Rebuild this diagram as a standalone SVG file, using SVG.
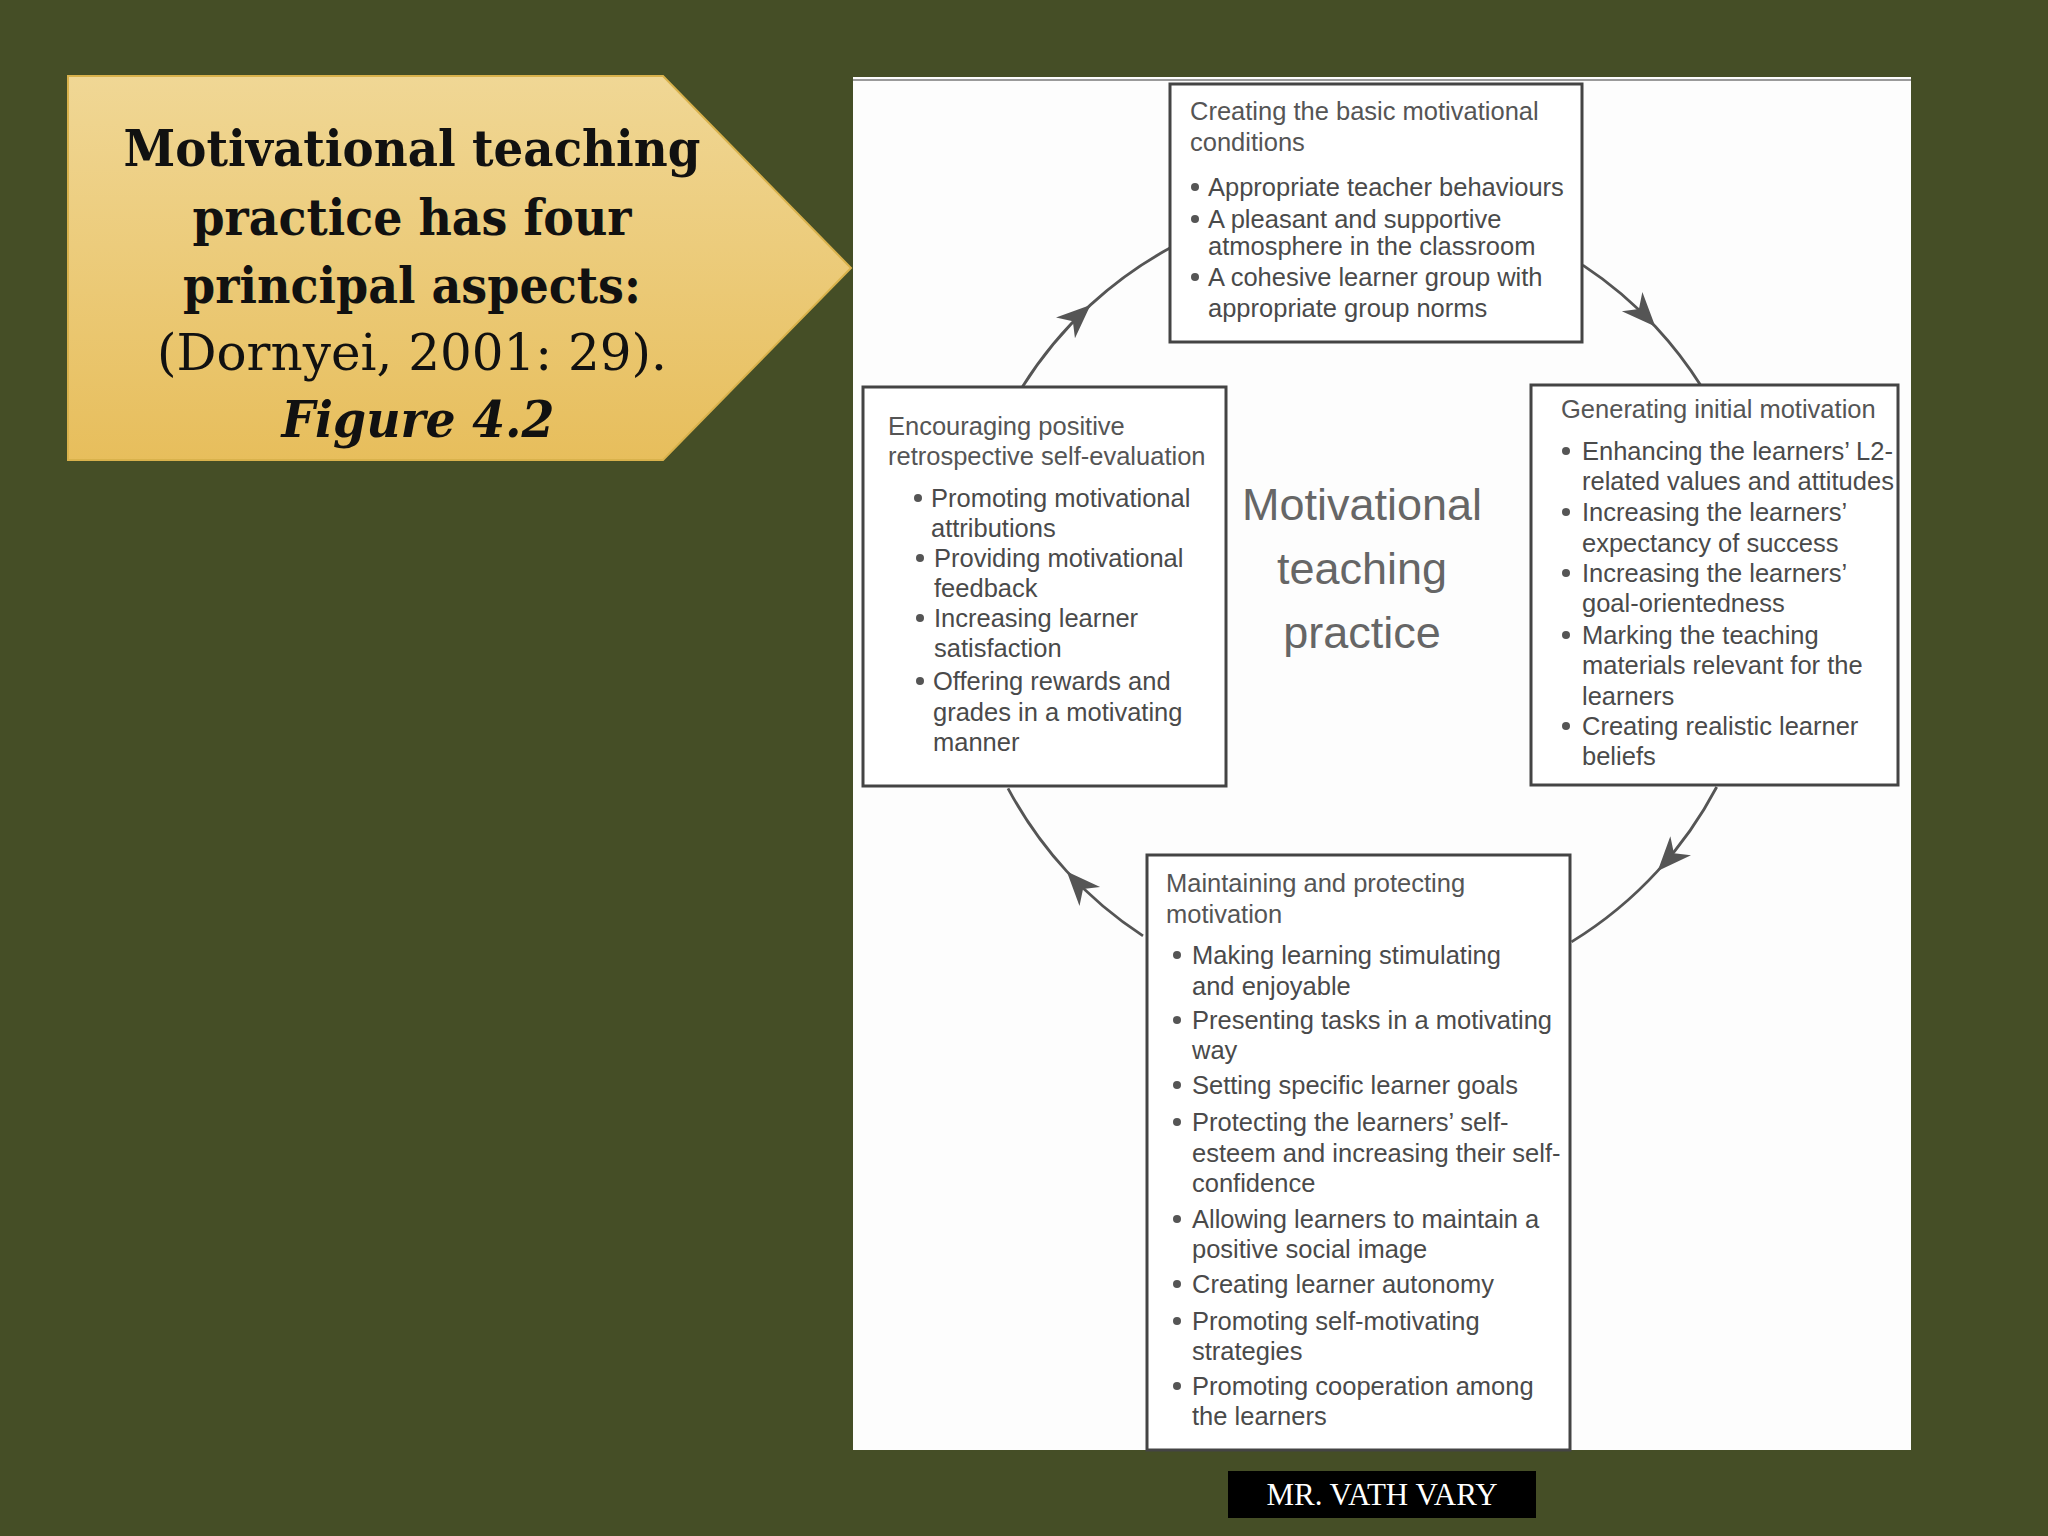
<svg xmlns="http://www.w3.org/2000/svg" width="2048" height="1536" viewBox="0 0 2048 1536">
<defs>
<linearGradient id="gold" x1="0" y1="0" x2="0" y2="1">
<stop offset="0" stop-color="#f0d795"/>
<stop offset="1" stop-color="#e7be5c"/>
</linearGradient>
<marker id="arr" viewBox="-36 -16 38 32" refX="0" refY="0" markerWidth="38" markerHeight="32" markerUnits="userSpaceOnUse" orient="auto">
<path d="M0,0 L-34,-14 L-24,0 L-34,14 Z" fill="#555"/>
</marker>
<style>
.box{fill:#fff;stroke:#444;stroke-width:3}
.t{font-family:"Liberation Sans",Arial,sans-serif;font-size:25.5px;fill:#4a4a4a}
.h{font-family:"Liberation Sans",Arial,sans-serif;font-size:25.5px;fill:#555}
.c{font-family:"Liberation Sans",Arial,sans-serif;font-size:45px;fill:#666;text-anchor:middle}
.b{fill:#555}
.arc{fill:none;stroke:#555;stroke-width:2.8;marker-mid:url(#arr)}
.ti{font-family:"DejaVu Serif","Liberation Serif",serif;font-size:50px;fill:#111;text-anchor:middle}
</style>
</defs>
<rect width="2048" height="1536" fill="#454e26"/>

<g id="callout">
<polygon points="68,76 663,76 851,268 663,460 68,460" fill="url(#gold)" stroke="#d9b24c" stroke-width="2"/>
<text class="ti" x="412" y="166" font-weight="bold" textLength="577" lengthAdjust="spacingAndGlyphs">Motivational teaching</text>
<text class="ti" x="412" y="235" font-weight="bold" textLength="439" lengthAdjust="spacingAndGlyphs">practice has four</text>
<text class="ti" x="412" y="303" font-weight="bold" textLength="458" lengthAdjust="spacingAndGlyphs">principal aspects:</text>
<text class="ti" x="412" y="370" textLength="510" lengthAdjust="spacingAndGlyphs">(Dornyei, 2001: 29).</text>
<text class="ti" x="418" y="437" font-weight="bold" font-style="italic" textLength="273" lengthAdjust="spacingAndGlyphs">Figure 4.2</text>
</g>

<g id="panel">
<rect x="853" y="77" width="1058" height="1373" fill="#fdfdfd"/>
<line x1="853" y1="80" x2="1911" y2="80" stroke="#9a9a9a" stroke-width="2"/>
</g>

<g id="connectors">
<path class="arc" d="M1022,387.5 A401,401 0 0 1 1090.5,304.9 A401,401 0 0 1 1171.3,247.3"/>
<path class="arc" d="M1582.8,265.2 A401,401 0 0 1 1655.3,326.5 A401,401 0 0 1 1701.3,386.3"/>
<path class="arc" d="M1716.7,787 A401,401 0 0 1 1657.7,870.9 A401,401 0 0 1 1571.5,941.9"/>
<path class="arc" d="M1143,935.9 A401,401 0 0 1 1066.8,871.4 A401,401 0 0 1 1008,788.3"/>
</g>

<g id="center">
<text class="c" x="1362" y="520">Motivational</text>
<text class="c" x="1362" y="584">teaching</text>
<text class="c" x="1362" y="648">practice</text>
</g>

<g id="top-box">
<rect class="box" x="1170" y="84" width="412" height="258"/>
<text class="h" x="1190" y="120">Creating the basic motivational</text>
<text class="h" x="1190" y="151">conditions</text>
<circle class="b" cx="1195" cy="187" r="4"/>
<text class="t" x="1208" y="196">Appropriate teacher behaviours</text>
<circle class="b" cx="1195" cy="219" r="4"/>
<text class="t" x="1208" y="228">A pleasant and supportive</text>
<text class="t" x="1208" y="255">atmosphere in the classroom</text>
<circle class="b" cx="1195" cy="277" r="4"/>
<text class="t" x="1208" y="286">A cohesive learner group with</text>
<text class="t" x="1208" y="317">appropriate group norms</text>
</g>

<g id="right-box">
<rect class="box" x="1531" y="385" width="367" height="400"/>
<text class="h" x="1561" y="418">Generating initial motivation</text>
<circle class="b" cx="1566" cy="451" r="4"/>
<text class="t" x="1582" y="460">Enhancing the learners’ L2-</text>
<text class="t" x="1582" y="490">related values and attitudes</text>
<circle class="b" cx="1566" cy="512" r="4"/>
<text class="t" x="1582" y="521">Increasing the learners’</text>
<text class="t" x="1582" y="552">expectancy of success</text>
<circle class="b" cx="1566" cy="573" r="4"/>
<text class="t" x="1582" y="582">Increasing the learners’</text>
<text class="t" x="1582" y="612">goal-orientedness</text>
<circle class="b" cx="1566" cy="635" r="4"/>
<text class="t" x="1582" y="644">Marking the teaching</text>
<text class="t" x="1582" y="674">materials relevant for the</text>
<text class="t" x="1582" y="705">learners</text>
<circle class="b" cx="1566" cy="726" r="4"/>
<text class="t" x="1582" y="735">Creating realistic learner</text>
<text class="t" x="1582" y="765">beliefs</text>
</g>

<g id="bottom-box">
<rect class="box" x="1147" y="855" width="423" height="595"/>
<text class="h" x="1166" y="892">Maintaining and protecting</text>
<text class="h" x="1166" y="923">motivation</text>
<circle class="b" cx="1177" cy="955" r="4"/>
<text class="t" x="1192" y="964">Making learning stimulating</text>
<text class="t" x="1192" y="995">and enjoyable</text>
<circle class="b" cx="1177" cy="1020" r="4"/>
<text class="t" x="1192" y="1029">Presenting tasks in a motivating</text>
<text class="t" x="1192" y="1059">way</text>
<circle class="b" cx="1177" cy="1085" r="4"/>
<text class="t" x="1192" y="1094">Setting specific learner goals</text>
<circle class="b" cx="1177" cy="1122" r="4"/>
<text class="t" x="1192" y="1131">Protecting the learners’ self-</text>
<text class="t" x="1192" y="1162">esteem and increasing their self-</text>
<text class="t" x="1192" y="1192">confidence</text>
<circle class="b" cx="1177" cy="1219" r="4"/>
<text class="t" x="1192" y="1228">Allowing learners to maintain a</text>
<text class="t" x="1192" y="1258">positive social image</text>
<circle class="b" cx="1177" cy="1284" r="4"/>
<text class="t" x="1192" y="1293">Creating learner autonomy</text>
<circle class="b" cx="1177" cy="1321" r="4"/>
<text class="t" x="1192" y="1330">Promoting self-motivating</text>
<text class="t" x="1192" y="1360">strategies</text>
<circle class="b" cx="1177" cy="1386" r="4"/>
<text class="t" x="1192" y="1395">Promoting cooperation among</text>
<text class="t" x="1192" y="1425">the learners</text>
</g>

<g id="left-box">
<rect class="box" x="863" y="387" width="363" height="399"/>
<text class="h" x="888" y="435">Encouraging positive</text>
<text class="h" x="888" y="465">retrospective self-evaluation</text>
<circle class="b" cx="918" cy="498" r="4"/>
<text class="t" x="931" y="507">Promoting motivational</text>
<text class="t" x="931" y="537">attributions</text>
<circle class="b" cx="920" cy="558" r="4"/>
<text class="t" x="934" y="567">Providing motivational</text>
<text class="t" x="934" y="597">feedback</text>
<circle class="b" cx="920" cy="618" r="4"/>
<text class="t" x="934" y="627">Increasing learner</text>
<text class="t" x="934" y="657">satisfaction</text>
<circle class="b" cx="920" cy="681" r="4"/>
<text class="t" x="933" y="690">Offering rewards and</text>
<text class="t" x="933" y="721">grades in a motivating</text>
<text class="t" x="933" y="751">manner</text>
</g>

<g id="footer">
<rect x="1228" y="1471" width="308" height="47" fill="#000"/>
<text x="1382" y="1505" font-family="Liberation Serif,serif" font-size="31" fill="#fff" text-anchor="middle">MR. VATH VARY</text>
</g>
</svg>
